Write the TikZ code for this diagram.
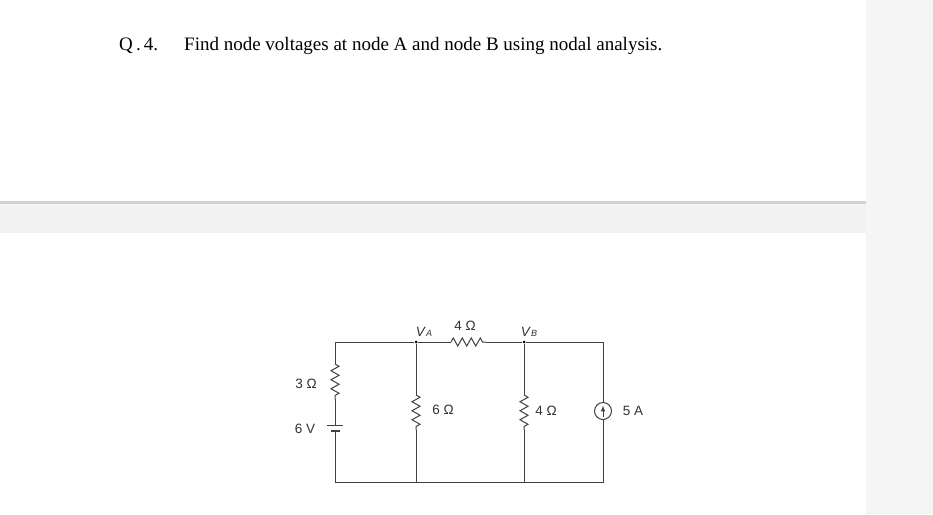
\documentclass[tikz,border=0pt]{standalone}
\usepackage{fontspec}
\setmainfont{Liberation Serif}
\newfontfamily\lsans{Liberation Sans}
\usetikzlibrary{decorations.pathmorphing}
\begin{document}
\begin{tikzpicture}[x=1pt,y=-1pt,
  wire/.style={line width=1pt,black!75},
  res/.style={wire,decorate,decoration={zigzag,amplitude=4pt,segment length=9pt}},
  lbl/.style={font=\lsans\fontsize{13.5}{14}\selectfont,text=black!80,inner sep=0pt},
  dot/.style={circle,fill=black,inner sep=0pt,minimum size=3pt}]
\useasboundingbox (0,0) rectangle (933,514);
\fill[white] (0,0) rectangle (933,514);
\fill[black!4] (866,0) rectangle (933,514);
\fill[black!5] (0,203) rectangle (866,233);
\fill[black!18] (0,201) rectangle (866,204);
\node[anchor=base west,font=\fontsize{19}{21}\selectfont,inner sep=0pt] (q) at (119,50) {Q\,.\,4.};
\node[anchor=base west,font=\fontsize{19}{21}\selectfont,inner sep=0pt] (t) at (184,50) {Find node voltages at node A and node B using nodal analysis.};
\coordinate (TL) at (335,342); \coordinate (BL) at (335,482);
\node[dot] (A) at (416,342) {}; \coordinate (AB) at (416,482);
\node[dot] (B) at (524,342) {}; \coordinate (BB) at (524,482);
\coordinate (TR) at (603,342); \coordinate (BR) at (603,482);
\coordinate (r3a) at (335,364); \coordinate (r3b) at (335,399);
\coordinate (r6a) at (416,395); \coordinate (r6b) at (416,430);
\coordinate (r4a) at (524,395); \coordinate (r4b) at (524,430);
\coordinate (rha) at (451,342); \coordinate (rhb) at (486,342);
\coordinate (bat1) at (335,425); \coordinate (bat2) at (335,431);
\node[circle,draw,line width=1pt,black!75,minimum size=17pt,inner sep=0pt] (S) at (603,411) {};
\draw[wire] (r3a) -- (TL) -- (A) -- (rha);
\draw[res] (rha) -- (rhb);
\draw[wire] (rhb) -- (B) -- (TR) -- (S.north);
\draw[wire] (S.south) -- (BR) -- (BL) -- (bat2);
\draw[wire] (bat1) -- (r3b);
\draw[res] (r3a) -- (r3b);
\draw[wire] (A) -- (r6a); \draw[res] (r6a) -- (r6b); \draw[wire] (r6b) -- (AB);
\draw[wire] (B) -- (r4a); \draw[res] (r4a) -- (r4b); \draw[wire] (r4b) -- (BB);
\draw[wire] ([xshift=-8pt]bat1) -- ([xshift=8pt]bat1);
\draw[wire,line width=2pt] ([xshift=-4.5pt]bat2) -- ([xshift=4.5pt]bat2);
\draw[wire,-latex] ([yshift=-5.5pt]S.center) -- ([yshift=5.5pt]S.center);
\node[lbl] (l3) at (306,384) {3 Ω};
\node[lbl] (lv) at (305,429) {6 V};
\node[lbl] (l6) at (443,410) {6 Ω};
\node[lbl] (l4) at (546,411) {4 Ω};
\node[lbl] (l5) at (633,411) {5 A};
\node[lbl] (lh) at (465,326) {4 Ω};
\node[lbl] (va) at (424,332) {\textit{V}{\fontsize{9}{9}\selectfont\textit{A}}};
\node[lbl] (vb) at (529,332) {\textit{V}{\fontsize{9}{9}\selectfont\textit{B}}};
\end{tikzpicture}
\end{document}
